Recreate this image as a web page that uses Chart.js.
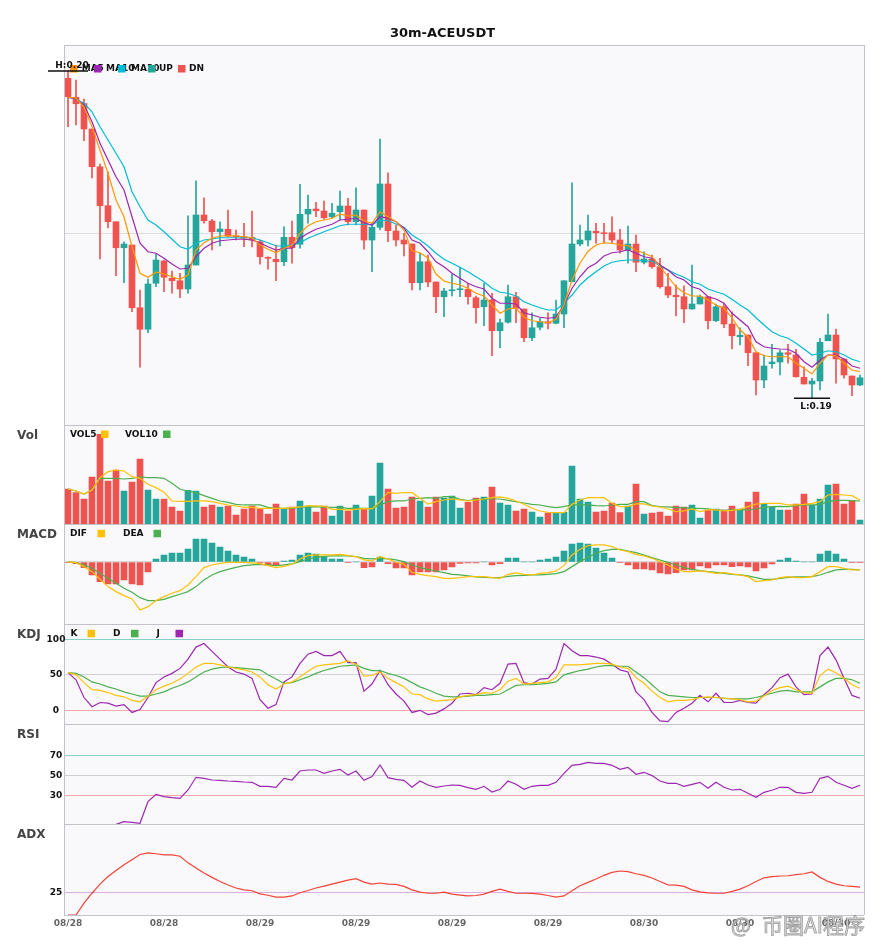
<!DOCTYPE html>
<html>
<head>
<meta charset="utf-8">
<script src="https://cdn.jsdelivr.net/npm/chart.js@4.4.1/dist/chart.umd.min.js"></script>
<style>
  html, body { margin: 0; padding: 0; background: #fff; }
  #wrap { width: 885px; height: 950px; position: relative; }
</style>
</head>
<body>
<div id="wrap"><canvas id="kline"></canvas></div>
<script>
// 30m candles, ACEUSDT
const openP = [
  0.20367,0.20291,0.20266,0.20164,0.20013,0.19857,0.19793,0.19689,0.19700,0.19449,
  0.19363,0.19547,0.19636,0.19567,0.19557,0.19524,0.19620,0.19820,0.19796,0.19753,
  0.19763,0.19736,0.19733,0.19730,0.19713,0.19651,0.19643,0.19633,0.19731,0.19703,
  0.19824,0.19844,0.19836,0.19813,0.19833,0.19856,0.19793,0.19840,0.19720,0.19771,
  0.19944,0.19756,0.19720,0.19704,0.19549,0.19633,0.19552,0.19493,0.19517,0.19521,
  0.19523,0.19489,0.19453,0.19480,0.19357,0.19391,0.19493,0.19444,0.19329,0.19371,
  0.19393,0.19387,0.19424,0.19553,0.19704,0.19720,0.19755,0.19749,0.19749,0.19720,
  0.19680,0.19704,0.19631,0.19644,0.19613,0.19533,0.19499,0.19493,0.19444,0.19464,
  0.19493,0.19397,0.19453,0.19384,0.19333,0.19340,0.19269,0.19160,0.19225,0.19232,
  0.19269,0.19260,0.19171,0.19144,0.19156,0.19317,0.19340,0.19244,0.19176,0.19140
];
const highP = [
  0.20396,0.20360,0.20284,0.20164,0.20024,0.19993,0.19793,0.19713,0.19700,0.19520,
  0.19564,0.19663,0.19640,0.19596,0.19587,0.19817,0.19957,0.19889,0.19803,0.19793,
  0.19840,0.19760,0.19787,0.19836,0.19720,0.19653,0.19700,0.19773,0.19796,0.19943,
  0.19900,0.19871,0.19876,0.19867,0.19916,0.19887,0.19929,0.19840,0.19787,0.20124,
  0.19989,0.19780,0.19747,0.19704,0.19667,0.19660,0.19552,0.19527,0.19584,0.19611,
  0.19547,0.19496,0.19547,0.19507,0.19404,0.19540,0.19511,0.19444,0.19429,0.19407,
  0.19429,0.19480,0.19557,0.19949,0.19780,0.19820,0.19787,0.19787,0.19813,0.19763,
  0.19776,0.19740,0.19673,0.19660,0.19647,0.19587,0.19540,0.19537,0.19620,0.19500,
  0.19493,0.19464,0.19467,0.19433,0.19369,0.19340,0.19269,0.19260,0.19303,0.19280,
  0.19303,0.19283,0.19213,0.19167,0.19327,0.19424,0.19364,0.19244,0.19176,0.19180
];
const lowP = [
  0.20173,0.20180,0.20117,0.19968,0.19644,0.19768,0.19577,0.19549,0.19433,0.19211,
  0.19349,0.19533,0.19513,0.19507,0.19489,0.19507,0.19620,0.19787,0.19680,0.19696,
  0.19732,0.19720,0.19693,0.19692,0.19623,0.19603,0.19557,0.19617,0.19627,0.19687,
  0.19787,0.19813,0.19803,0.19807,0.19800,0.19780,0.19780,0.19683,0.19593,0.19760,
  0.19713,0.19696,0.19656,0.19520,0.19520,0.19533,0.19429,0.19413,0.19496,0.19493,
  0.19463,0.19387,0.19377,0.19257,0.19289,0.19387,0.19389,0.19313,0.19317,0.19360,
  0.19364,0.19384,0.19369,0.19553,0.19696,0.19696,0.19707,0.19707,0.19707,0.19667,
  0.19627,0.19593,0.19624,0.19607,0.19527,0.19489,0.19416,0.19389,0.19443,0.19464,
  0.19364,0.19393,0.19369,0.19284,0.19300,0.19217,0.19100,0.19129,0.19207,0.19180,
  0.19227,0.19171,0.19144,0.19087,0.19120,0.19317,0.19147,0.19167,0.19097,0.19137
];
const closeP = [
  0.20293,0.20265,0.20164,0.20013,0.19857,0.19793,0.19689,0.19704,0.19449,0.19363,
  0.19544,0.19640,0.19571,0.19557,0.19524,0.19620,0.19820,0.19797,0.19753,0.19764,
  0.19736,0.19733,0.19727,0.19720,0.19653,0.19647,0.19633,0.19731,0.19689,0.19823,
  0.19843,0.19837,0.19809,0.19827,0.19856,0.19793,0.19840,0.19720,0.19771,0.19944,
  0.19757,0.19720,0.19704,0.19549,0.19633,0.19552,0.19493,0.19516,0.19519,0.19523,
  0.19493,0.19449,0.19480,0.19357,0.19389,0.19493,0.19447,0.19329,0.19369,0.19393,
  0.19387,0.19424,0.19557,0.19704,0.19720,0.19756,0.19749,0.19745,0.19720,0.19680,
  0.19704,0.19631,0.19644,0.19613,0.19533,0.19500,0.19493,0.19444,0.19464,0.19493,
  0.19397,0.19453,0.19384,0.19337,0.19339,0.19269,0.19160,0.19216,0.19232,0.19269,
  0.19263,0.19173,0.19144,0.19156,0.19311,0.19340,0.19244,0.19180,0.19140,0.19169
];
const ma5 = [
  0.20291,0.20287,0.20253,0.20173,0.20080,0.19987,0.19880,0.19813,0.19693,0.19587,
  0.19571,0.19591,0.19584,0.19573,0.19563,0.19580,0.19680,0.19709,0.19727,0.19736,
  0.19737,0.19736,0.19733,0.19729,0.19700,0.19683,0.19669,0.19687,0.19700,0.19747,
  0.19777,0.19793,0.19800,0.19807,0.19823,0.19816,0.19820,0.19797,0.19787,0.19833,
  0.19813,0.19793,0.19760,0.19677,0.19669,0.19647,0.19584,0.19556,0.19547,0.19540,
  0.19527,0.19507,0.19496,0.19460,0.19427,0.19444,0.19447,0.19411,0.19397,0.19393,
  0.19389,0.19403,0.19460,0.19560,0.19627,0.19675,0.19700,0.19709,0.19707,0.19700,
  0.19697,0.19680,0.19667,0.19653,0.19613,0.19573,0.19533,0.19509,0.19496,0.19496,
  0.19480,0.19460,0.19447,0.19409,0.19360,0.19333,0.19273,0.19257,0.19253,0.19253,
  0.19253,0.19227,0.19207,0.19184,0.19227,0.19260,0.19257,0.19227,0.19200,0.19193
];
const ma10 = [
  0.20291,0.20284,0.20260,0.20193,0.20107,0.20040,0.19973,0.19920,0.19813,0.19707,
  0.19673,0.19667,0.19647,0.19624,0.19604,0.19607,0.19653,0.19687,0.19707,0.19717,
  0.19720,0.19723,0.19723,0.19720,0.19709,0.19693,0.19680,0.19687,0.19687,0.19727,
  0.19747,0.19763,0.19773,0.19783,0.19800,0.19803,0.19807,0.19789,0.19780,0.19813,
  0.19807,0.19793,0.19767,0.19720,0.19707,0.19673,0.19633,0.19613,0.19587,0.19567,
  0.19547,0.19533,0.19524,0.19487,0.19467,0.19467,0.19464,0.19429,0.19420,0.19411,
  0.19407,0.19411,0.19460,0.19527,0.19573,0.19609,0.19627,0.19656,0.19669,0.19673,
  0.19680,0.19667,0.19653,0.19647,0.19620,0.19600,0.19573,0.19560,0.19533,0.19523,
  0.19493,0.19484,0.19467,0.19427,0.19400,0.19373,0.19313,0.19293,0.19287,0.19284,
  0.19283,0.19267,0.19233,0.19211,0.19240,0.19260,0.19260,0.19244,0.19216,0.19207
];
const ma20 = [
  0.20291,0.20283,0.20267,0.20233,0.20173,0.20120,0.20067,0.20013,0.19913,0.19853,
  0.19800,0.19780,0.19753,0.19723,0.19693,0.19683,0.19707,0.19720,0.19724,0.19729,
  0.19729,0.19729,0.19729,0.19729,0.19720,0.19709,0.19696,0.19696,0.19700,0.19709,
  0.19727,0.19740,0.19753,0.19765,0.19777,0.19783,0.19783,0.19783,0.19780,0.19800,
  0.19797,0.19784,0.19771,0.19740,0.19720,0.19696,0.19667,0.19643,0.19627,0.19611,
  0.19593,0.19573,0.19553,0.19527,0.19511,0.19507,0.19496,0.19473,0.19460,0.19449,
  0.19440,0.19440,0.19467,0.19500,0.19540,0.19569,0.19593,0.19616,0.19631,0.19637,
  0.19640,0.19640,0.19637,0.19636,0.19616,0.19600,0.19584,0.19571,0.19553,0.19543,
  0.19524,0.19513,0.19503,0.19483,0.19460,0.19440,0.19409,0.19380,0.19353,0.19337,
  0.19327,0.19307,0.19284,0.19260,0.19267,0.19277,0.19273,0.19260,0.19243,0.19233
];
// volume in thousands
const volumeK = [
  106,95,76,142,270,130,163,100,127,196, 103,76,76,52,40,102,100,52,58,52,
  55,28,46,55,46,31,61,46,52,70, 55,37,55,25,55,40,58,46,85,184,
  106,49,52,82,70,52,82,79,85,49, 66,79,82,112,64,58,40,46,37,22,
  34,34,36,175,76,67,37,40,64,35, 55,121,31,34,37,25,55,52,58,19,
  43,46,43,55,46,67,97,61,52,43, 43,61,91,58,76,118,121,61,71,13
];
const vol5 = [
  106,100,91,103,140,158,163,160,143,138, 120,110,96,70,69,69,70,70,68,63,
  58,55,51,51,48,48,48,48,50,52, 55,55,54,45,45,43,45,47,46,68,
  96,93,95,95,78,61,68,73,76,73, 70,73,76,80,82,78,70,60,48,40,
  36,35,35,60,73,80,80,80,63,53, 53,61,61,55,52,46,38,40,46,38,
  43,43,40,42,45,53,61,63,63,63, 58,58,60,63,68,88,90,88,86,73
];
const vol10 = [
  106,100,91,103,138,138,138,136,138,142, 140,140,138,123,105,100,95,86,78,70,
  66,60,58,58,58,51,48,48,48,52, 52,53,51,51,51,48,48,48,48,58,
  68,70,70,76,78,80,78,83,83,75, 71,74,76,76,76,72,68,64,60,58,
  53,50,53,58,58,58,56,55,58,60, 60,68,68,56,53,52,50,50,48,48,
  46,43,42,43,43,43,46,51,53,54, 53,56,58,58,60,68,72,72,71,70
];
// MACD values in 1e-6 USDT
const macdHist = [
  -1,-5,-17,-39,-59,-66,-66,-54,-66,-69, -30,9,21,27,27,39,69,69,57,45,
  33,21,15,9,-3,-9,-9,3,6,21, 27,24,15,9,9,-2,0,-17,-15,15,
  -5,-18,-18,-39,-30,-30,-30,-24,-15,-4, -3,-3,0,-9,-5,12,12,0,0,6,
  9,15,33,54,57,54,42,27,12,-2, -9,-21,-21,-24,-33,-36,-32,-24,-24,-12,
  -18,-9,-9,-14,-12,-15,-27,-18,-6,6, 12,3,0,0,24,33,24,9,-2,-2
];
const dif = [
  0,-2,-14,-29,-52,-74,-89,-101,-111,-144, -134,-116,-104,-94,-86,-69,-44,-17,-9,-4,
  -1,-1,-1,-3,-5,-11,-17,-13,-7,9, 19,21,21,21,23,19,16,6,3,16,
  9,-1,-7,-31,-37,-41,-44,-49,-49,-47, -44,-44,-44,-47,-49,-37,-33,-37,-39,-34,
  -32,-27,-11,21,38,49,51,51,46,36, 31,23,18,11,1,-9,-21,-29,-29,-27,
  -30,-34,-32,-36,-39,-44,-59,-56,-54,-47, -44,-47,-47,-44,-29,-14,-14,-19,-24,-24
];
const dea = [
  0,-2,-9,-19,-34,-49,-64,-79,-91,-107, -116,-116,-112,-104,-97,-89,-74,-54,-39,-29,
  -22,-16,-11,-9,-7,-9,-11,-9,-6,1, 9,14,17,18,18,18,16,11,9,11,
  9,6,1,-9,-17,-22,-27,-32,-37,-39, -42,-45,-46,-47,-47,-43,-41,-40,-39,-39,
  -37,-35,-29,-14,1,14,26,34,38,38, 33,28,21,13,6,-1,-9,-17,-22,-26,
  -29,-31,-34,-37,-39,-42,-47,-52,-52,-49, -46,-45,-45,-44,-39,-31,-24,-22,-22,-24
];
const kLine = [
  53,50,39,29,28,25,21,19,14,12, 20,29,34,38,44,52,61,66,66,64,
  61,59,57,54,47,36,30,37,40,47, 55,62,64,65,66,70,65,48,49,54,
  45,39,33,23,22,16,13,14,15,19, 21,22,25,24,29,41,45,37,38,39,
  40,46,64,64,64,65,66,66,65,61, 59,46,38,27,18,12,14,14,15,18,
  19,18,17,16,15,12,13,20,28,32, 34,29,25,24,49,58,53,45,36,31
];
const dLine = [
  53,52,47,40,37,33,30,26,23,20, 20,23,26,31,35,40,47,54,58,60,
  61,60,59,58,57,50,44,38,39,43, 47,52,56,59,62,63,64,59,56,56,
  52,49,45,39,33,29,24,20,19,19, 20,21,21,22,23,29,35,36,36,37,
  38,40,50,53,56,58,61,63,63,62, 62,54,46,36,26,21,20,19,18,18,
  18,18,17,16,16,16,18,21,24,27, 28,26,26,26,33,40,45,45,43,38
];
const jLine = [
  53,43,18,5,11,10,6,8,-3,1, 18,39,47,52,59,72,89,94,83,72,
  61,54,51,45,15,3,8,40,47,66, 79,83,77,77,83,67,67,27,37,56,
  36,23,13,-3,0,-6,-4,2,10,23, 24,22,32,29,38,65,66,39,37,44,
  45,58,94,84,77,77,75,72,65,57, 54,26,15,-3,-15,-16,-3,3,10,21,
  12,24,11,11,14,11,10,22,32,46, 51,33,22,23,77,89,71,45,21,17
];
const rsi = [
  0,0,0,0,0,0,1,3.7,3,2, 23.7,31,28.7,27.7,27,35.3,48,47,45.3,45,
  44.3,44,43.3,43,39,39,38,47,45.3,54.3, 55.3,55.3,52,54.3,56,50.3,54.3,45,48.7,60.3,
  47.7,46,45,38,44.3,40.3,38,39.3,40.3,40, 37.7,36,39,33.3,36,44.3,41,36,39,40,
  40,43,52,60,61,63,62,62,60,56, 58,51,53,49.7,44.3,42,42,39,41,43,
  37,43,38,35.3,36,32,28,33,35,38, 38,33,32,33,47,49,43,40,37,40
];
const adx = [
  15,15,20.2,24.6,28.6,32,34.6,37.2,39.4,41.7, 42.4,42,41.5,41.5,40.9,38,35.7,33.5,31.6,29.8,
  28.2,26.9,26.1,25.7,24.3,23.7,22.9,22.9,23.4,24.8, 25.8,26.9,27.7,28.6,29.5,30.4,31,29.5,28.6,29.1,
  28.6,28.5,27.6,26.1,25.1,24.6,24.6,25.1,24.2,23.8, 23.4,23.6,24.2,25.4,26.4,25.4,24.6,24.6,24.5,24.2,
  23.6,22.9,23.4,25.7,27.9,29.4,30.9,32.5,33.8,34.4, 34.1,33.2,32.5,31.3,29.8,28.3,28.2,27.6,26.1,25.2,
  24.8,24.6,24.6,25.4,26.4,27.9,29.8,31.4,31.9,32.2, 32.3,32.8,33.2,34,31.6,29.8,28.6,27.9,27.6,27.3
];
const xTickLabels = ['08/28','08/28','08/29','08/29','08/29','08/29','08/30','08/30','08/30'];
const mainGrid = [0.19745];
const macdTicks = [0];
const kdjTicks = [0, 50, 100];
const rsiTicks = [30, 50, 70];
const adxTicks = [25];

const N = closeP.length;
const candleIdx = Array.from({ length: N }, (_, i) => i);
const UP = '#26a69a', DN = '#ef5350';
const candleColor = closeP.map((c, i) => (c >= openP[i] ? UP : DN));
const histColor = macdHist.map(v => (v >= 0 ? UP : DN));
const FONT = '"DejaVu Sans", sans-serif';

Chart.defaults.font.family = FONT;

function yScale(stackWeight, order, min, max, ticks, colors) {
  return {
    type: 'linear',
    position: 'left',
    stack: 'panels',
    stackWeight: stackWeight,
    weight: order,
    min: min,
    max: max,
    border: { display: false },
    grid: {
      display: !!ticks,
      drawTicks: false,
      lineWidth: 1,
      color: ctx => (colors && colors[ctx.tick.value]) || '#dcdce4'
    },
    ticks: { display: false },
    afterBuildTicks: s => { if (ticks) s.ticks = ticks.map(v => ({ value: v })); },
    afterFit: s => { s.width = 64; }
  };
}

function line(label, data, color, axis) {
  return {
    type: 'line', label: label, data: data, yAxisID: axis,
    borderColor: color, borderWidth: 1.2, pointRadius: 0, tension: 0, order: 0
  };
}

// clip every dataset to its own panel
const panelClip = {
  id: 'panelClip',
  beforeDatasetDraw(chart, args) {
    const s = chart.scales[args.meta.yAxisID];
    const a = chart.chartArea;
    chart.ctx.save();
    chart.ctx.beginPath();
    chart.ctx.rect(a.left, s.top - 1, a.right - a.left, s.bottom - s.top + 2);
    chart.ctx.clip();
  },
  afterDatasetDraw(chart) { chart.ctx.restore(); }
};

function drawLegend(ctx, items, y) {
  ctx.font = 'bold 9px ' + FONT;
  ctx.textBaseline = 'middle';
  ctx.textAlign = 'left';
  items.forEach(it => {
    ctx.fillStyle = it.c;
    ctx.fillRect(it.bx, y - 4, 7.5, 7.5);
    ctx.fillStyle = '#111';
    ctx.fillText(it.t, it.tx, y);
  });
}

const decor = {
  id: 'decor',
  beforeDraw(chart) {
    const { ctx, chartArea: a } = chart;
    ctx.save();
    ctx.fillStyle = '#ffffff';
    ctx.fillRect(0, 0, chart.width, chart.height);
    ctx.fillStyle = '#f9f9fb';
    ctx.fillRect(a.left, a.top, a.right - a.left, a.bottom - a.top);
    ctx.restore();
  },
  afterDraw(chart) {
    const { ctx, chartArea: a, scales } = chart;
    ctx.save();

    // panel frames
    ctx.strokeStyle = '#c2c2ca';
    ctx.lineWidth = 1;
    ctx.beginPath();
    ['yMain', 'yVol', 'yMacd', 'yKdj', 'yRsi', 'yAdx'].forEach(id => {
      const y = Math.round(scales[id].top) + 0.5;
      ctx.moveTo(a.left, y); ctx.lineTo(a.right, y);
    });
    const yb = Math.round(a.bottom) + 0.5;
    ctx.moveTo(a.left, yb); ctx.lineTo(a.right, yb);
    ctx.moveTo(Math.round(a.left) + 0.5, a.top); ctx.lineTo(Math.round(a.left) + 0.5, a.bottom);
    ctx.moveTo(Math.round(a.right) + 0.5, a.top); ctx.lineTo(Math.round(a.right) + 0.5, a.bottom);
    ctx.stroke();

    // title
    ctx.fillStyle = '#111';
    ctx.font = 'bold 13px ' + FONT;
    ctx.textAlign = 'center';
    ctx.textBaseline = 'middle';
    ctx.fillText('30m-ACEUSDT', chart.width / 2, 34);

    // panel names
    ctx.fillStyle = '#444';
    ctx.font = 'bold 12px ' + FONT;
    ctx.textAlign = 'left';
    [['yVol', 'Vol'], ['yMacd', 'MACD'], ['yKdj', 'KDJ'], ['yRsi', 'RSI'], ['yAdx', 'ADX']].forEach(([id, t]) => {
      ctx.fillText(t, 17, scales[id].top + 10.5);
    });

    // tick labels
    ctx.fillStyle = '#111';
    ctx.font = 'bold 9px ' + FONT;
    ctx.textAlign = 'center';
    [['yKdj', kdjTicks], ['yRsi', rsiTicks], ['yAdx', adxTicks]].forEach(([id, tk]) => {
      tk.forEach(v => ctx.fillText(String(v), 56, scales[id].getPixelForValue(v)));
    });

    // legends
    drawLegend(ctx, [
      { t: 'MA5', c: '#ff9800', bx: 70, tx: 81.7 },
      { t: 'MA10', c: '#9c27b0', bx: 94, tx: 106 },
      { t: 'MA20', c: '#00bcd4', bx: 118, tx: 131 },
      { t: 'UP', c: UP, bx: 148, tx: 159 },
      { t: 'DN', c: DN, bx: 178, tx: 189 }
    ], 69);
    const vt = scales.yVol.top + 9.5, mt = scales.yMacd.top + 9.5, kt = scales.yKdj.top + 9.5;
    drawLegend(ctx, [
      { t: 'VOL5', c: '#ffc107', bx: 101, tx: 70 },
      { t: 'VOL10', c: '#4caf50', bx: 163, tx: 125 }
    ], vt);
    drawLegend(ctx, [
      { t: 'DIF', c: '#ffc107', bx: 97.5, tx: 70 },
      { t: 'DEA', c: '#4caf50', bx: 153.5, tx: 123 }
    ], mt);
    drawLegend(ctx, [
      { t: 'K', c: '#ffc107', bx: 87.5, tx: 70.5 },
      { t: 'D', c: '#4caf50', bx: 131, tx: 113 },
      { t: 'J', c: '#9c27b0', bx: 175.5, tx: 156.5 }
    ], kt);

    // high / low markers
    const xs = scales.x, ym = scales.yMain;
    const hi = highP.indexOf(Math.max(...highP));
    const lo = lowP.indexOf(Math.min(...lowP));
    const hx = xs.getPixelForValue(hi), hy = ym.getPixelForValue(highP[hi]);
    const lx = xs.getPixelForValue(lo), ly = ym.getPixelForValue(lowP[lo]);
    ctx.strokeStyle = '#111';
    ctx.lineWidth = 1.3;
    ctx.beginPath();
    ctx.moveTo(hx - 20, hy); ctx.lineTo(hx + 20, hy);
    ctx.moveTo(lx - 18, ly); ctx.lineTo(lx + 18, ly);
    ctx.stroke();
    ctx.font = 'bold 9px ' + FONT;
    ctx.textAlign = 'center';
    ctx.textBaseline = 'alphabetic';
    ctx.fillText('H:' + highP[hi].toFixed(2), hx + 4, hy - 3);
    ctx.textBaseline = 'middle';
    ctx.fillText('L:' + lowP[lo].toFixed(2), lx + 4, ly + 8.5);

    // watermark
    ctx.font = '21px "Noto Sans CJK SC", sans-serif';
    ctx.textAlign = 'left';
    ctx.textBaseline = 'middle';
    ctx.lineWidth = 1;
    ctx.strokeStyle = 'rgba(140,140,140,0.75)';
    ctx.fillStyle = 'rgba(235,235,235,0.85)';
    ctx.fillText('@', 731, 925);
    ctx.strokeText('@', 731, 925);
    ctx.fillText('币圈AI程序', 762, 925);
    ctx.strokeText('币圈AI程序', 762, 925);
    ctx.restore();
  }
};

new Chart(document.getElementById('kline'), {
  type: 'bar',
  data: {
    labels: candleIdx,
    datasets: [
      { type: 'bar', label: 'wick', yAxisID: 'yMain', data: lowP.map((l, i) => [l, highP[i]]),
        backgroundColor: candleColor, barThickness: 1, grouped: false, order: 3 },
      { type: 'bar', label: 'body', yAxisID: 'yMain', data: openP.map((o, i) => [o, closeP[i]]),
        backgroundColor: candleColor, barThickness: 6, minBarLength: 1, grouped: false, order: 2 },
      line('MA5', ma5, '#ff9800', 'yMain'),
      line('MA10', ma10, '#9c27b0', 'yMain'),
      line('MA20', ma20, '#00bcd4', 'yMain'),
      { type: 'bar', label: 'Vol', yAxisID: 'yVol', data: volumeK,
        backgroundColor: candleColor, barThickness: 6, grouped: false, order: 2 },
      line('VOL5', vol5, '#ffc107', 'yVol'),
      line('VOL10', vol10, '#4caf50', 'yVol'),
      { type: 'bar', label: 'MACD', yAxisID: 'yMacd', data: macdHist,
        backgroundColor: histColor, barThickness: 6, grouped: false, order: 2 },
      line('DIF', dif, '#ffc107', 'yMacd'),
      line('DEA', dea, '#4caf50', 'yMacd'),
      line('K', kLine, '#ffc107', 'yKdj'),
      line('D', dLine, '#4caf50', 'yKdj'),
      line('J', jLine, '#9c27b0', 'yKdj'),
      line('RSI', rsi, '#9c27b0', 'yRsi'),
      line('ADX', adx, '#f44336', 'yAdx')
    ]
  },
  options: {
    responsive: true,
    maintainAspectRatio: false,
    animation: false,
    layout: { padding: { top: 45, right: 21, bottom: 0, left: 0 } },
    scales: {
      x: {
        type: 'category',
        offset: true,
        grid: { display: false, drawTicks: false },
        border: { display: false },
        ticks: {
          autoSkip: false, maxRotation: 0, minRotation: 0, padding: 3,
          color: '#666', font: { family: FONT, size: 9, weight: 'bold' },
          callback: (v, i) => (i % 12 === 0 ? xTickLabels[i / 12] : '')
        },
        afterFit: s => { s.height = 35; }
      },
      yAdx: yScale(90.7, 1, 15, 55, adxTicks, { 25: '#d9aee2' }),
      yRsi: yScale(100, 2, 1, 101, rsiTicks, { 70: '#86d0c6', 50: '#d0d0d4', 30: '#f3aaaa' }),
      yKdj: yScale(100, 3, -19.7, 121.1, kdjTicks, { 100: '#86d0c6', 50: '#d0d0d4', 0: '#f3aaaa' }),
      yMacd: yScale(100, 4, -187, 113, macdTicks, { 0: '#d6d6de' }),
      yVol: yScale(99.3, 5, 0, 298, null, null),
      yMain: yScale(380, 6, 0.1898, 0.2050, mainGrid, null)
    },
    plugins: {
      legend: { display: false },
      tooltip: { enabled: false }
    }
  },
  plugins: [panelClip, decor]
});
</script>
</body>
</html>
